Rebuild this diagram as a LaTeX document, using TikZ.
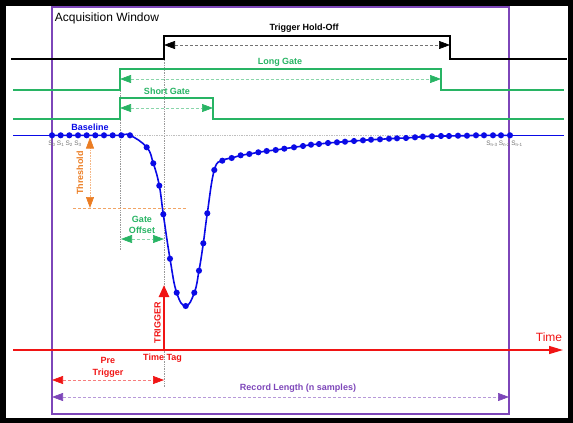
\documentclass[tikz,border=0pt]{standalone}
\usepackage{fontspec}
\setmainfont{Liberation Sans}
\usetikzlibrary{arrows.meta}
\definecolor{gatecol}{RGB}{40,180,100}
\definecolor{pulsecol}{RGB}{10,10,230}
\definecolor{wincol}{RGB}{125,70,185}
\definecolor{thrcol}{RGB}{235,125,35}
\definecolor{timecol}{RGB}{240,20,20}
\tikzset{
  sig/.style={line width=1.2pt},
  dimarrow/.style={densely dashed, line width=0.6pt, draw=#1!55,
    {Triangle[length=11pt,width=8pt,color=#1]}-{Triangle[length=11pt,width=8pt,color=#1]}},
  guide/.style={gray!80, densely dotted, line width=0.7pt},
  lbl/.style={font=\fontsize{9}{11.5}\selectfont\bfseries},
  smp/.style={font=\fontsize{6.5}{7}\selectfont, text=gray!90!black, inner sep=0pt},
}
\begin{document}
\begin{tikzpicture}[x=1pt, y=-1pt]
    \useasboundingbox (0,0) rectangle (573,423);
    % Outer frame
    \draw[line width=5.5pt] (2.75,3) rectangle (570.25,420.25);

    % Acquisition window
    \draw[wincol, line width=1.2pt] (52,7) rectangle (509,414);
    \node[font=\fontsize{12}{14}\selectfont] (acqlbl) at (107,18) {Acquisition Window};

    % Guide lines
    \draw[guide] (164,36) -- (164,387);
    \draw[guide] (120,69) -- (120,250);
    \draw[guide, gray!50] (130,135.3) -- (509,135.3);
    \draw[thrcol!70, densely dashed, line width=0.6pt] (73,208) -- (186,208);

    % Trigger hold-off
    \draw[sig] (11,59) -- (164,59) |- (450,36) |- (567,59);
    \coordinate (hoL) at (164,45);
    \coordinate (hoR) at (450,45);
    \draw[dimarrow=black] (hoL) -- (hoR);
    \node[lbl] (holbl) at (304,28) {Trigger Hold-Off};

    % Long gate
    \draw[sig, gatecol] (13,90) -- (120,90) |- (441,69) |- (564,90);
    \coordinate (lgL) at (120,79);
    \coordinate (lgR) at (441,79);
    \draw[dimarrow=gatecol] (lgL) -- (lgR);
    \node[lbl, text=gatecol] (lglbl) at (280,62) {Long Gate};

    % Short gate
    \draw[sig, gatecol] (13,119) -- (120,119) |- (213,98) |- (564,119);
    \coordinate (sgL) at (120,108);
    \coordinate (sgR) at (213,108);
    \draw[dimarrow=gatecol] (sgL) -- (sgR);
    \node[lbl, text=gatecol] (sglbl) at (167,91) {Short Gate};

    % Pulse with samples
    \draw[pulsecol, line width=1.6pt] (13,135.3) -- (52,135.3);
    \draw[pulsecol, line width=1.6pt] (510,135.3) -- (564,135.3);
    \draw[pulsecol, line width=1.6pt] plot[smooth, tension=0.75, mark=*, mark size=2.2pt,
        mark options={fill=pulsecol}] coordinates {
        (52,135.3) (60.7,135.3) (69.3,135.3) (78,135.3) (86.7,135.3) (95.3,135.3)
        (104,135.3) (112.7,135.3) (121.3,135.3) (130,135.3)
        (146.7,147.3) (153.3,163.3) (159.3,185.7) (163.3,214.3) (170,258.7)
        (176.7,292.7) (185.7,306) (194.3,292.7) (199,270.7) (203.3,243.3)
        (207.3,213.3) (214.3,170) (222.3,160.7) (231.7,158) (240.7,155.3)
        (249.3,154) (258.3,152.3) (266.7,151) (275.7,150) (284.3,148.7)
        (294,147.3) (303,146) (311,144.7) (319,144) (328,143) (337,142.3)
        (345,141.7) (354,141) (363,140.3) (371,139.7) (380,139.3) (389,138.7)
        (397,138.3) (406,138) (415,137.3) (423,136.7) (432,136.3) (441,136)
        (449,136) (458,135.7) (467,135.7) (476,135.3) (484,135.3) (493,135.3)
        (501,135.3) (510,135.3)};
    \node[lbl, text=pulsecol] (bllbl) at (90,127.5) {Baseline};
    \foreach \k in {0,...,3}
        \node[smp] (s\k) at ({52+8.67*\k},144) {S\textsubscript{\k}};
    \node[smp] (sn) at (504.5,144) {S\textsubscript{n-3}\,S\textsubscript{n-2}\,S\textsubscript{n-1}};

    % Threshold
    \coordinate (thT) at (90,137.5);
    \coordinate (thB) at (90,208);
    \draw[dimarrow=thrcol, densely dotted] (thT) -- (thB);
    \node[lbl, text=thrcol, rotate=90] (thlbl) at (80,173) {Threshold};

    % Gate offset
    \coordinate (goL) at (121,239);
    \coordinate (goR) at (164,239);
    \draw[dimarrow=gatecol] (goL) -- (goR);
    \node[lbl, text=gatecol, align=center] (golbl) at (142,225) {Gate\\Offset};

    % Time axis
    \coordinate (t0) at (13,350);
    \coordinate (t1) at (563,350);
    \draw[timecol, line width=1.2pt, -{Triangle[length=14pt,width=8pt]}] (t0) -- (t1);
    \node[text=timecol, font=\fontsize{12}{14}\selectfont] (timelbl) at (549,337) {Time};

    % Trigger
    \coordinate (trg) at (164,350);
    \coordinate (trgtip) at (164,285);
    \draw[timecol, line width=2.5pt, -{Triangle[length=12pt,width=10pt]}] (trg) -- (trgtip);
    \node[lbl, text=timecol, rotate=90] (trglbl) at (157.5,322.5) {TRIGGER};
    \node[lbl, text=timecol] (taglbl) at (162.5,358) {Time Tag};

    % Pre trigger
    \coordinate (ptL) at (52,380);
    \coordinate (ptR) at (164,380);
    \draw[dimarrow=timecol] (ptL) -- (ptR);
    \node[lbl, text=timecol, align=center] (ptlbl) at (108,367.5) {Pre\\Trigger};

    % Record length
    \coordinate (rlL) at (52,397);
    \coordinate (rlR) at (509,397);
    \draw[dimarrow=wincol] (rlL) -- (rlR);
    \node[lbl, text=wincol] (rllbl) at (298,388) {Record Length (n samples)};
\end{tikzpicture}
\end{document}
